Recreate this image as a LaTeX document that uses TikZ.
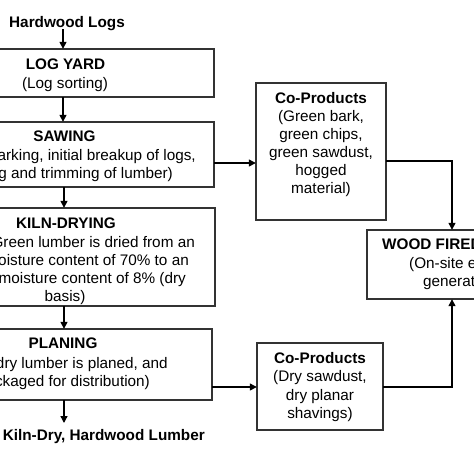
\documentclass[tikz,border=0pt]{standalone}
\usepackage{fontspec}
\setmainfont{Liberation Sans}
\usetikzlibrary{arrows.meta}
\begin{document}
\begin{tikzpicture}[x=1pt,y=-1pt,
  box/.style={draw=black!80,line width=1.4pt},
  txt/.style={inner sep=0pt,font=\fontsize{15.3pt}{18pt}\selectfont},
  ttl/.style={txt,font=\fontsize{15.3pt}{18pt}\selectfont\bfseries},
  arr/.style={line width=1.3pt,-{Triangle[length=7pt,width=7pt]}},
  conn/.style={line width=1.3pt}]
\useasboundingbox[fill=white] (0,0) rectangle (474,474);
\clip (0,0) rectangle (474,474);
% boxes
\draw[box] (-86,49) rectangle (214,97);
\node (logyard) [inner sep=0pt,minimum width=300pt,minimum height=48pt] at (64,73) {};
\draw[box] (-86,122) rectangle (214,187);
\node (sawing) [inner sep=0pt,minimum width=300pt,minimum height=65pt] at (64,154.5) {};
\draw[box] (-86,208) rectangle (215,306);
\node (kiln) [inner sep=0pt,minimum width=301pt,minimum height=98pt] at (64.5,257) {};
\draw[box] (-86,329) rectangle (212,400);
\node (planing) [inner sep=0pt,minimum width=298pt,minimum height=71pt] at (63,364.5) {};
\draw[box] (256,83) rectangle (386,220);
\node (cop1) [inner sep=0pt,minimum width=130pt,minimum height=137pt] at (321,151.5) {};
\draw[box] (257,343) rectangle (383,430);
\node (cop2) [inner sep=0pt,minimum width=126pt,minimum height=87pt] at (320,386.5) {};
\draw[box] (367,230) rectangle (560,299);
\node (wood) [inner sep=0pt,minimum width=193pt,minimum height=69pt] at (463.5,264.5) {};
% texts
\node (logs) [ttl,anchor=base] at (67,27.5) {Hardwood Logs};
\node [ttl,anchor=base] at (65.5,69.5) {LOG YARD};
\node [txt,anchor=base] at (65,88.5) {(Log sorting)};
\node [ttl,anchor=base] at (64.5,141.5) {SAWING};
\node [txt,anchor=base east] at (196,160.5) {(Debarking, initial breakup of logs,};
\node [txt,anchor=base east] at (173,178.5) {edging and trimming of lumber)};
\node [ttl,anchor=base] at (66,228.5) {KILN-DRYING};
\node [txt,anchor=base east] at (195,247.5) {(Green lumber is dried from an};
\node [txt,anchor=base east] at (189,265.5) {initial moisture content of 70\% to an};
\node [txt,anchor=base east] at (186,283.5) {final moisture content of 8\% (dry};
\node [txt,anchor=base] at (65,301.5) {basis)};
\node [ttl,anchor=base] at (63,348.5) {PLANING};
\node [txt,anchor=base east] at (168,368.5) {(Kiln-dry lumber is planed, and};
\node [txt,anchor=base east] at (150,386.5) {packaged for distribution)};
\node (lumber) [ttl,anchor=base east] at (205,440.5) {Kiln-Dry, Hardwood Lumber};
\node [ttl,anchor=base] at (321,103.5) {Co-Products};
\node [txt,anchor=base] at (321,121.5) {(Green bark,};
\node [txt,anchor=base] at (321,139.5) {green chips,};
\node [txt,anchor=base] at (321,157.5) {green sawdust,};
\node [txt,anchor=base] at (321,175.5) {hogged};
\node [txt,anchor=base] at (321,193.5) {material)};
\node [ttl,anchor=base] at (320,363.5) {Co-Products};
\node [txt,anchor=base] at (320,381.5) {(Dry sawdust,};
\node [txt,anchor=base] at (320,400) {dry planar};
\node [txt,anchor=base] at (320,418.5) {shavings)};
\node [ttl,anchor=base west] at (382,249.5) {WOOD FIRED BOILER};
\node [txt,anchor=base west] at (409,268.5) {(On-site energy};
\node [txt,anchor=base west] at (423,286.5) {generation)};
% connectors
\coordinate (c1) at (452,161);
\coordinate (c2) at (452,387);
\draw[arr] (63,29) -- (logyard.north -| 63,0);
\draw[arr] (logyard.south -| 63,0) -- (sawing.north -| 63,0);
\draw[arr] (sawing.south -| 64,0) -- (kiln.north -| 64,0);
\draw[arr] (kiln.south -| 64,0) -- (planing.north -| 64,0);
\draw[arr] (planing.south -| 64,0) -- (64,423);
\draw[arr] (sawing.east |- 0,163) -- (cop1.west |- 0,163);
\draw[arr] (planing.east |- 0,387) -- (cop2.west |- 0,387);
\draw[arr] (cop1.east |- c1) -- (c1) -- (wood.north -| c1);
\draw[arr] (cop2.east |- c2) -- (c2) -- (wood.south -| c2);
\end{tikzpicture}
\end{document}
